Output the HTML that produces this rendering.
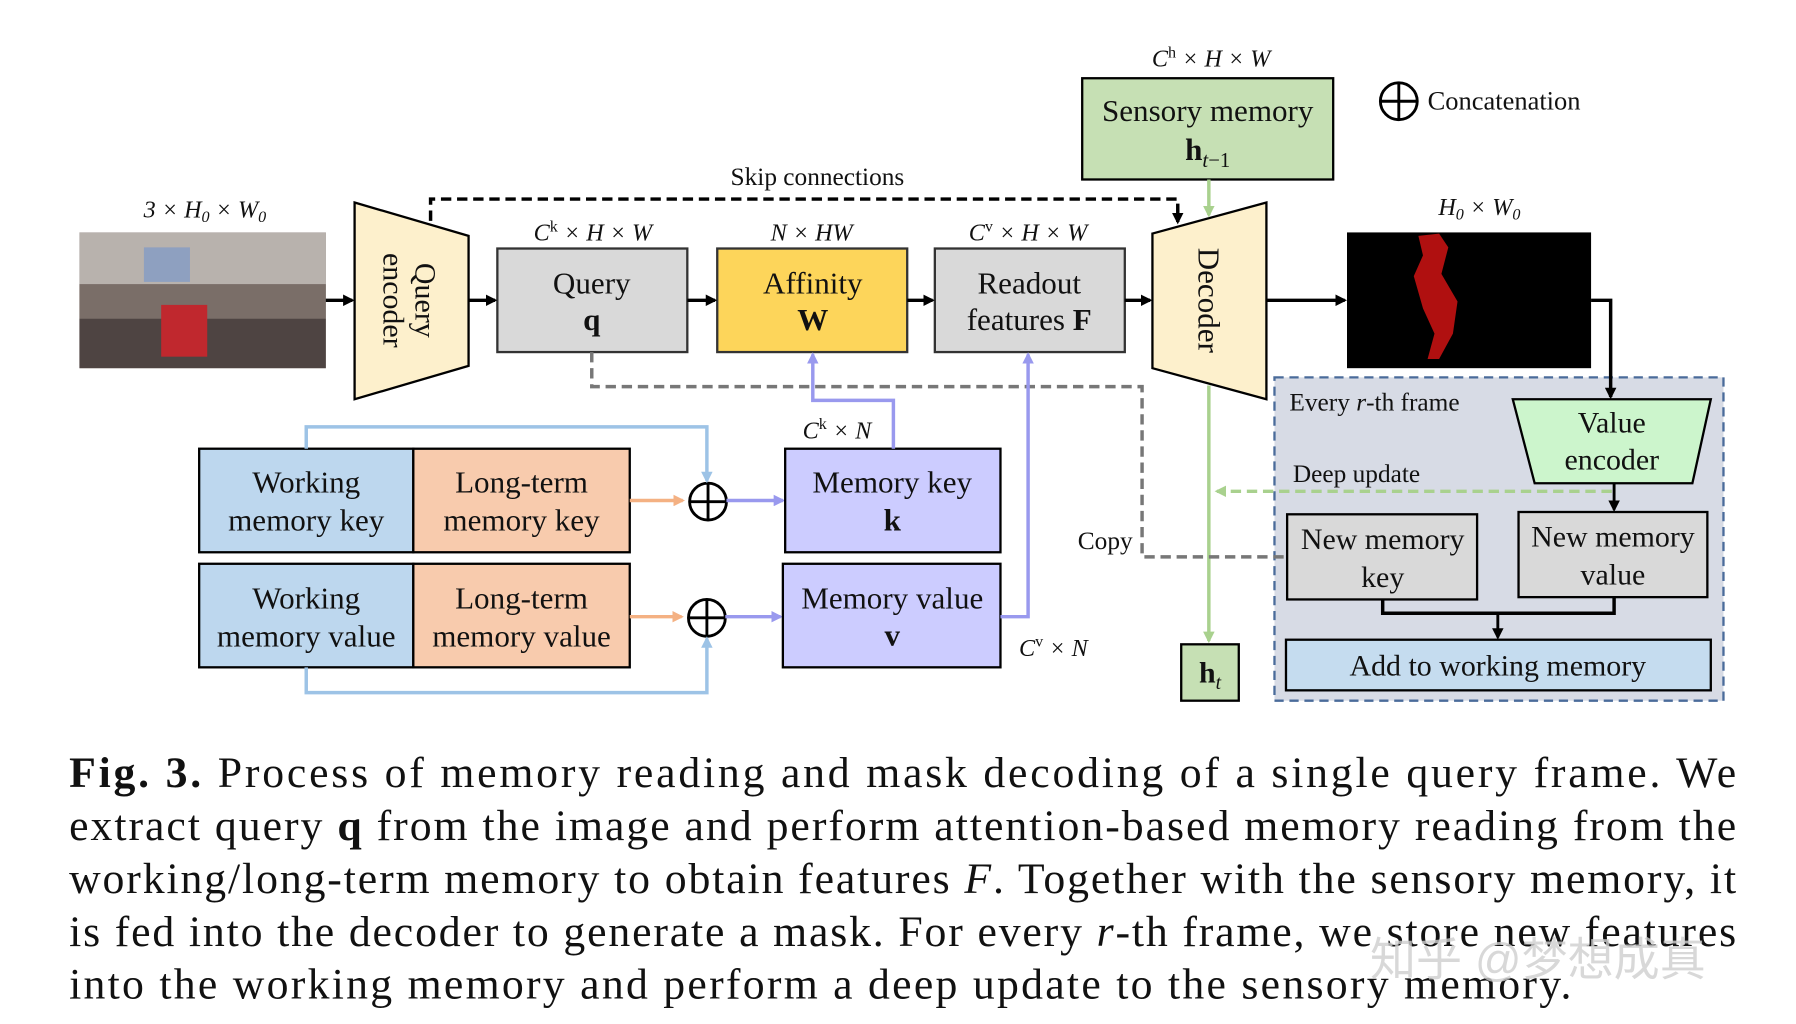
<!DOCTYPE html>
<html><head><meta charset="utf-8"><style>
html,body{margin:0;padding:0;background:#fff;}
svg{display:block;}
text{font-family:"Liberation Serif",serif;fill:#111;}
.i{font-style:italic;}
</style></head><body>
<svg width="1796" height="1024" viewBox="0 0 1560 890" preserveAspectRatio="none" xmlns="http://www.w3.org/2000/svg">
<defs>
<marker id="ak" markerWidth="10" markerHeight="10" refX="8" refY="5" orient="auto" markerUnits="userSpaceOnUse"><path d="M0,0 L10,5 L0,10 z" fill="#000"/></marker>
<marker id="ag" markerWidth="10" markerHeight="10" refX="8" refY="5" orient="auto" markerUnits="userSpaceOnUse"><path d="M0,0 L10,5 L0,10 z" fill="#a9d18e"/></marker>
<marker id="ap" markerWidth="10" markerHeight="10" refX="8" refY="5" orient="auto" markerUnits="userSpaceOnUse"><path d="M0,0 L10,5 L0,10 z" fill="#9999ee"/></marker>
<marker id="ab" markerWidth="10" markerHeight="10" refX="8" refY="5" orient="auto" markerUnits="userSpaceOnUse"><path d="M0,0 L10,5 L0,10 z" fill="#9dc3e6"/></marker>
<marker id="ao" markerWidth="10" markerHeight="10" refX="8" refY="5" orient="auto" markerUnits="userSpaceOnUse"><path d="M0,0 L10,5 L0,10 z" fill="#f4b183"/></marker>
</defs>

<rect x="1107" y="328" width="390" height="281" fill="#d7dbe5" stroke="#4a6b9a" stroke-width="2" stroke-dasharray="8,5"/>

<!-- image -->
<rect x="69" y="202" width="214" height="118" fill="#8a7f78"/>
<rect x="69" y="202" width="214" height="45" fill="#b8b2ad"/>
<rect x="69" y="247" width="214" height="30" fill="#7a6e68"/>
<rect x="69" y="277" width="214" height="43" fill="#4e4442"/>
<rect x="140" y="265" width="40" height="45" fill="#c0282e"/>
<rect x="125" y="215" width="40" height="30" fill="#8ea0c0"/>
<text x="178" y="189" font-size="21" text-anchor="middle" class="i">3 × H<tspan font-size="14" dy="4">0</tspan><tspan dy="-4"> × W</tspan><tspan font-size="14" dy="4">0</tspan></text>

<polygon points="308,176 407,205 407,318 308,347" fill="#fdf0cc" stroke="#000" stroke-width="2"/>
<text transform="translate(358,261) rotate(90)" font-size="26" text-anchor="middle"><tspan x="0" y="-3">Query</tspan><tspan x="0" y="25">encoder</tspan></text>

<rect x="432" y="216" width="165" height="90" fill="#d9d9d9" stroke="#333" stroke-width="2"/>
<text x="514" y="255" font-size="27" text-anchor="middle">Query</text>
<text x="514" y="287" font-size="27" text-anchor="middle" font-weight="bold">q</text>
<rect x="623" y="216" width="165" height="90" fill="#fdd55a" stroke="#333" stroke-width="2"/>
<text x="706" y="255" font-size="27" text-anchor="middle">Affinity</text>
<text x="706" y="287" font-size="27" text-anchor="middle" font-weight="bold">W</text>
<rect x="812" y="216" width="165" height="90" fill="#d9d9d9" stroke="#333" stroke-width="2"/>
<text x="894" y="255" font-size="27" text-anchor="middle">Readout</text>
<text x="894" y="287" font-size="27" text-anchor="middle">features <tspan font-weight="bold">F</tspan></text>
<text x="515" y="209" font-size="21" text-anchor="middle" class="i">C<tspan font-size="14" dy="-8" font-style="normal">k</tspan><tspan dy="8"> × H × W</tspan></text>
<text x="705" y="209" font-size="21" text-anchor="middle" class="i">N × HW</text>
<text x="893" y="209" font-size="21" text-anchor="middle" class="i">C<tspan font-size="14" dy="-8" font-style="normal">v</tspan><tspan dy="8"> × H × W</tspan></text>

<line x1="283" y1="261" x2="306" y2="261" stroke="#000" stroke-width="3" marker-end="url(#ak)"/>
<line x1="407" y1="261" x2="430" y2="261" stroke="#000" stroke-width="3" marker-end="url(#ak)"/>
<line x1="597" y1="261" x2="621" y2="261" stroke="#000" stroke-width="3" marker-end="url(#ak)"/>
<line x1="788" y1="261" x2="810" y2="261" stroke="#000" stroke-width="3" marker-end="url(#ak)"/>
<line x1="977" y1="261" x2="999" y2="261" stroke="#000" stroke-width="3" marker-end="url(#ak)"/>

<polygon points="1001,203 1100,176 1100,347 1001,320" fill="#fdf0cc" stroke="#000" stroke-width="2"/>
<text transform="translate(1050,261) rotate(90)" font-size="27" text-anchor="middle" y="9">Decoder</text>

<rect x="940" y="68" width="218" height="88" fill="#c6e0b4" stroke="#000" stroke-width="2"/>
<text x="1049" y="105" font-size="27" text-anchor="middle">Sensory memory</text>
<text x="1049" y="139" font-size="27" text-anchor="middle" font-weight="bold">h<tspan font-size="18" dy="6" font-weight="normal" font-style="italic">t</tspan><tspan font-size="18" font-weight="normal">−1</tspan></text>
<text x="1052" y="58" font-size="21" text-anchor="middle" class="i">C<tspan font-size="14" dy="-8" font-style="normal">h</tspan><tspan dy="8"> × H × W</tspan></text>
<line x1="1050" y1="156" x2="1050" y2="187" stroke="#a9d18e" stroke-width="3" marker-end="url(#ag)"/>

<circle cx="1215" cy="88" r="16" fill="none" stroke="#000" stroke-width="2.5"/>
<line x1="1199" y1="88" x2="1231" y2="88" stroke="#000" stroke-width="2.5"/>
<line x1="1215" y1="72" x2="1215" y2="104" stroke="#000" stroke-width="2.5"/>
<text x="1240" y="95" font-size="23">Concatenation</text>

<polyline points="374,192 374,173 1023,173 1023,193" fill="none" stroke="#000" stroke-width="3" stroke-dasharray="9,5" marker-end="url(#ak)"/>
<text x="710" y="161" font-size="22" text-anchor="middle">Skip connections</text>

<rect x="1170" y="202" width="212" height="118" fill="#000"/>
<path d="M1232,205 L1250,203 L1258,215 L1252,238 L1266,262 L1262,290 L1250,312 L1240,312 L1246,290 L1236,268 L1228,240 L1236,222 z" fill="#b01010"/>
<text x="1285" y="187" font-size="21" text-anchor="middle" class="i">H<tspan font-size="14" dy="4">0</tspan><tspan dy="-4"> × W</tspan><tspan font-size="14" dy="4">0</tspan></text>
<line x1="1100" y1="261" x2="1168" y2="261" stroke="#000" stroke-width="3" marker-end="url(#ak)"/>
<polyline points="1382,261 1399,261 1399,345" fill="none" stroke="#000" stroke-width="3" marker-end="url(#ak)"/>

<polygon points="1314,347 1486,347 1470,420 1333,420" fill="#ccf5cc" stroke="#000" stroke-width="2"/>
<text x="1400" y="376" font-size="26" text-anchor="middle">Value</text>
<text x="1400" y="408" font-size="26" text-anchor="middle">encoder</text>
<text x="1120" y="357" font-size="22">Every <tspan class="i">r</tspan>-th frame</text>
<text x="1123" y="419" font-size="22">Deep update</text>
<line x1="1400" y1="427" x2="1057" y2="427" stroke="#a9d18e" stroke-width="3" stroke-dasharray="9,5" marker-end="url(#ag)"/>
<line x1="1402" y1="420" x2="1402" y2="443" stroke="#000" stroke-width="2.5" marker-end="url(#ak)"/>

<rect x="1118" y="447" width="165" height="74" fill="#d9d9d9" stroke="#000" stroke-width="2"/>
<text x="1201" y="477" font-size="26" text-anchor="middle">New memory</text>
<text x="1201" y="510" font-size="26" text-anchor="middle">key</text>
<rect x="1319" y="445" width="164" height="74" fill="#d9d9d9" stroke="#000" stroke-width="2"/>
<text x="1401" y="475" font-size="26" text-anchor="middle">New memory</text>
<text x="1401" y="508" font-size="26" text-anchor="middle">value</text>
<polyline points="1201,521 1201,533 1402,533 1402,519" fill="none" stroke="#000" stroke-width="3"/>
<line x1="1301" y1="533" x2="1301" y2="554" stroke="#000" stroke-width="2.5" marker-end="url(#ak)"/>
<rect x="1117" y="556" width="369" height="44" fill="#c5dcef" stroke="#000" stroke-width="2"/>
<text x="1301" y="587" font-size="26" text-anchor="middle">Add to working memory</text>

<line x1="1050" y1="335" x2="1050" y2="557" stroke="#a9d18e" stroke-width="3" marker-end="url(#ag)"/>
<rect x="1026" y="560" width="50" height="49" fill="#c6e0b4" stroke="#000" stroke-width="2"/>
<text x="1051" y="593" font-size="26" text-anchor="middle" font-weight="bold">h<tspan font-size="17" dy="6" font-weight="normal" font-style="italic">t</tspan></text>

<polyline points="514,306 514,336 992,336 992,484 1118,484" fill="none" stroke="#777" stroke-width="3" stroke-dasharray="9,5"/>
<text x="960" y="477" font-size="22" text-anchor="middle">Copy</text>

<rect x="173" y="390" width="186" height="90" fill="#bdd7ee" stroke="#000" stroke-width="2"/>
<rect x="359" y="390" width="188" height="90" fill="#f8cbad" stroke="#000" stroke-width="2"/>
<text x="266" y="428" font-size="27" text-anchor="middle">Working</text>
<text x="266" y="461" font-size="27" text-anchor="middle">memory key</text>
<text x="453" y="428" font-size="27" text-anchor="middle">Long-term</text>
<text x="453" y="461" font-size="27" text-anchor="middle">memory key</text>
<rect x="173" y="490" width="186" height="90" fill="#bdd7ee" stroke="#000" stroke-width="2"/>
<rect x="359" y="490" width="188" height="90" fill="#f8cbad" stroke="#000" stroke-width="2"/>
<text x="266" y="529" font-size="27" text-anchor="middle">Working</text>
<text x="266" y="562" font-size="27" text-anchor="middle">memory value</text>
<text x="453" y="529" font-size="27" text-anchor="middle">Long-term</text>
<text x="453" y="562" font-size="27" text-anchor="middle">memory value</text>

<line x1="547" y1="435" x2="593" y2="435" stroke="#f4b183" stroke-width="3" marker-end="url(#ao)"/>
<line x1="547" y1="536" x2="592" y2="536" stroke="#f4b183" stroke-width="3" marker-end="url(#ao)"/>
<g stroke="#000" stroke-width="2.5" fill="none">
<circle cx="615" cy="436" r="16"/><line x1="599" y1="436" x2="631" y2="436"/><line x1="615" y1="420" x2="615" y2="452"/>
<circle cx="614" cy="537" r="16"/><line x1="598" y1="537" x2="630" y2="537"/><line x1="614" y1="521" x2="614" y2="553"/>
</g>
<line x1="631" y1="435" x2="680" y2="435" stroke="#9999ee" stroke-width="3" marker-end="url(#ap)"/>
<line x1="630" y1="536" x2="678" y2="536" stroke="#9999ee" stroke-width="3" marker-end="url(#ap)"/>
<polyline points="266,390 266,371 614,371 614,418" fill="none" stroke="#9dc3e6" stroke-width="3" marker-end="url(#ab)"/>
<polyline points="266,580 266,602 614,602 614,555" fill="none" stroke="#9dc3e6" stroke-width="3" marker-end="url(#ab)"/>

<rect x="682" y="390" width="187" height="90" fill="#ccccff" stroke="#000" stroke-width="2"/>
<text x="775" y="428" font-size="27" text-anchor="middle">Memory key</text>
<text x="775" y="461" font-size="27" text-anchor="middle" font-weight="bold">k</text>
<rect x="680" y="490" width="189" height="90" fill="#ccccff" stroke="#000" stroke-width="2"/>
<text x="775" y="529" font-size="27" text-anchor="middle">Memory value</text>
<text x="775" y="561" font-size="27" text-anchor="middle" font-weight="bold">v</text>
<polyline points="776,390 776,348 706,348 706,308" fill="none" stroke="#9999ee" stroke-width="3" marker-end="url(#ap)"/>
<polyline points="869,536 893,536 893,308" fill="none" stroke="#9999ee" stroke-width="3" marker-end="url(#ap)"/>
<text x="727" y="381" font-size="21" text-anchor="middle" class="i">C<tspan font-size="14" dy="-8" font-style="normal">k</tspan><tspan dy="8"> × N</tspan></text>
<text x="915" y="570" font-size="21" text-anchor="middle" class="i">C<tspan font-size="14" dy="-8" font-style="normal">v</tspan><tspan dy="8"> × N</tspan></text>

<g font-size="38">
<text x="60" y="684" textLength="1448" lengthAdjust="spacing"><tspan font-weight="bold">Fig. 3.</tspan> Process of memory reading and mask decoding of a single query frame. We</text>
<text x="60" y="730" textLength="1448" lengthAdjust="spacing">extract query <tspan font-weight="bold">q</tspan> from the image and perform attention-based memory reading from the</text>
<text x="60" y="776" textLength="1448" lengthAdjust="spacing">working/long-term memory to obtain features <tspan class="i">F</tspan>. Together with the sensory memory, it</text>
<text x="60" y="822" textLength="1448" lengthAdjust="spacing">is fed into the decoder to generate a mask. For every <tspan class="i">r</tspan>-th frame, we store new features</text>
<text x="60" y="868" textLength="1305" lengthAdjust="spacing">into the working memory and perform a deep update to the sensory memory.</text>
</g>
<text x="1190" y="848" font-size="40" style="fill:#cfcfcf;font-family:'Liberation Sans','Noto Sans CJK SC',sans-serif" opacity="0.8">知乎 @梦想成真</text>
</svg>
</body></html>
